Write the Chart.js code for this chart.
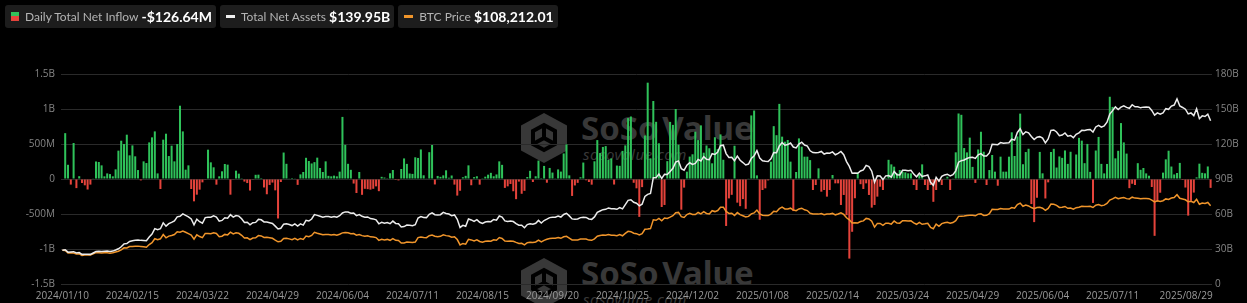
<!DOCTYPE html>
<html>
<head>
<meta charset="utf-8">
<title>Bitcoin Spot ETF Total Net Inflow</title>
<script src="https://cdn.jsdelivr.net/npm/chart.js@4.4.1/dist/chart.umd.min.js"></script>
<style>
  html, body { margin: 0; padding: 0; background: #000; }
  body { width: 1247px; height: 303px; position: relative; overflow: hidden; font-family: Lato, "Noto Sans", sans-serif; }
  .legend { position: absolute; top: 5px; left: 5px; display: flex; gap: 4px; z-index: 3; }
  .item { background: #1d1d1d; border-radius: 3px; height: 23px; padding: 0 4px 0 6px; display: flex; align-items: center; color: #b4b4b4; font-size: 12px; }
  .item b { color: #fff; font-size: 14px; font-weight: 700; margin-left: 3px; }
  .ico { display: inline-block; margin-right: 6px; }
  .ico.flow { width: 8px; height: 9px; background: linear-gradient(#2fc25a 50%, #e5433b 50%); }
  .ico.tna { width: 9px; height: 3px; background: #eee; }
  .ico.btc { width: 9px; height: 3px; background: #f0952b; }
  .wm { position: absolute; left: 521px; display: flex; align-items: flex-start; color: #383838; z-index: 0; }
  .wm .name { font-family: "Noto Sans", sans-serif; font-weight: 700; font-size: 33px; line-height: 34px; margin-left: 14px; margin-top: -2px; word-spacing: -5px; }
  .wm .url { font-family: "Noto Sans", sans-serif; font-style: italic; font-size: 15px; line-height: 16px; margin-left: 16px; margin-top: 1px; letter-spacing: 0.5px; }
  #wrap { position: absolute; left: 0; top: 0; width: 1247px; height: 303px; z-index: 1; }
</style>
</head>
<body>
<div class="legend">
  <div class="item"><span class="ico flow"></span>Daily Total Net Inflow<b>-$126.64M</b></div>
  <div class="item"><span class="ico tna"></span>Total Net Assets<b>$139.95B</b></div>
  <div class="item"><span class="ico btc"></span>BTC Price<b>$108,212.01</b></div>
</div>

<div class="wm" style="top:113px">
  <svg width="46" height="50" viewBox="0 0 46 50"><polygon points="23,0 46,12.5 46,37.5 23,50 0,37.5 0,12.5" fill="#383838"/><path d="M12 18 L23 12 L34 18 L34 31 L23 37 L12 31 Z M23 12 L23 25 L34 31 M12 31 L23 25" fill="none" stroke="#000" stroke-width="4"/></svg>
  <div><div class="name">SoSo Value</div><div class="url">sosovalue.com</div></div>
</div>
<div class="wm" style="top:258px">
  <svg width="46" height="50" viewBox="0 0 46 50"><polygon points="23,0 46,12.5 46,37.5 23,50 0,37.5 0,12.5" fill="#383838"/><path d="M12 18 L23 12 L34 18 L34 31 L23 37 L12 31 Z M23 12 L23 25 L34 31 M12 31 L23 25" fill="none" stroke="#000" stroke-width="4"/></svg>
  <div><div class="name">SoSo Value</div><div class="url">sosovalue.com</div></div>
</div>

<div id="wrap"><canvas id="etfChart"></canvas></div>

<script>
// x axis: US trading days from 2024/01/10 to 2025/08/29
const firstDay = '2024-01-10';
const lastDay = '2025-08-29';
const marketHolidays = ['2024-01-15', '2024-02-19', '2024-03-29', '2024-05-27', '2024-06-19', '2024-07-04',
    '2024-09-02', '2024-11-28', '2024-12-25', '2025-01-01', '2025-01-09', '2025-01-20', '2025-02-17',
    '2025-04-18', '2025-05-26', '2025-06-19', '2025-07-04'];

const xTickLabels = ['2024/01/10', '2024/02/15', '2024/03/22', '2024/04/29', '2024/06/04', '2024/07/11',
    '2024/08/15', '2024/09/20', '2024/10/25', '2024/12/02', '2025/01/08', '2025/02/14', '2025/03/24',
    '2025/04/29', '2025/06/04', '2025/07/11', '2025/08/29'];
const flowTickLabels = ['-1.5B', '-1B', '-500M', '0', '500M', '1B', '1.5B'];
const assetTickLabels = ['0', '30B', '60B', '90B', '120B', '150B', '180B'];

// daily total net inflow, $M
const netInflow = [
    0, 655, 203, -80, 514, -130, 40, -57, -90, -150,
    -80, 5, 250, 243, 195, 38, 80, 70, 38, 138,
    405, 547, 500, 633, 338, 480, 324, 128, -20, 252,
    228, 523, 595, 680, 80, -143, 562, 647, 328, 476,
    252, 500, 1047, 680, 133, 195, -143, -319, -224, -152,
    -48, -10, 419, 238, 167, -81, 38, 110, 214, 205,
    -224, -5, 119, 76, 3, -37, -58, -165, -4, 60,
    62, 1, -121, -218, -85, -51, -162, -564, -43, 378,
    217, 5, 14, 5, -84, 66, 100, 303, 257, 222,
    241, 305, 157, 100, 252, 45, 38, 48, 38, 105,
    887, 488, 217, 131, -65, -200, 100, -226, -140, -145,
    -152, -140, -105, -174, 31, 21, 11, 82, 129, -14,
    -20, 143, 294, 216, 78, 73, 310, 301, 422, 53,
    5, 383, 486, -78, 44, 31, 52, 124, 18, 50,
    -80, -237, -168, 25, 45, 195, -89, 27, 39, -81,
    11, 33, 62, 88, 39, 65, 252, 202, -127, -105,
    -71, -175, -288, -37, -211, -169, 28, 117, -43, 39,
    263, 13, 187, -53, 158, 92, 4, 137, 106, 365,
    494, 52, -242, -92, -55, 25, 235, -18, -43, -81,
    253, 556, 371, 458, 470, 273, 294, -79, 192, 188,
    402, 480, 870, 893, -54, -133, -541, -116, 621, 1376,
    294, 1114, 817, 510, -400, -371, 255, 816, 773, 1000,
    490, -438, -123, 105, 320, 353, 676, 556, 766, 376,
    479, 439, 224, 597, 428, 637, 275, -671, -277, -226,
    475, -338, -388, -287, -426, 5, 908, 978, 52, -582,
    -157, -133, -20, 248, 755, 626, 1073, 605, 533, 557,
    248, -458, 100, 580, 462, 319, 319, 270, -157, -86,
    152, -181, -157, -252, -157, 57, -62, -62, -371, -228,
    -517, -1137, -754, -275, 94, -74, -143, -62, -228, -409,
    -371, -252, -110, -157, 13, 274, 209, 176, 81, 128,
    105, 95, 81, 81, -86, -157, 57, 209, -86, -157,
    -86, -326, -157, -38, -86, 5, 33, -157, 5, 381,
    936, 917, 442, 380, 591, 173, -56, 422, 675, 390,
    -86, 128, 343, 105, -96, 319, 105, 105, 319, 667,
    329, 608, 934, 211, 385, 432, -358, -616, -268, 387,
    81, -278, -48, 386, 431, 164, 322, 302, 408, 216,
    389, 6, 350, 588, 548, 226, 501, 102, -342, 407,
    601, 216, 80, 215, 1175, 1030, 295, 403, 799, 523,
    363, -131, -68, -86, 226, 131, 157, 80, 47, -114,
    -812, -323, -196, 91, 281, 404, 178, 65, 86, 230,
    -14, -122, -523, -311, -194, 23, 219, 88, 81, 179,
    -126.64
];

// total net assets, $B
const totalNetAssets = [
    28.9, 29.4, 27.3, 27.5, 27.7, 26.6, 26.9, 25.4, 25.6, 25.6,
    25.4, 26.6, 27.8, 28.0, 27.9, 28.1, 28.2, 27.9, 28.2, 29.1,
    30.2, 31.9, 34.4, 34.7, 36.5, 37.1, 37.5, 37.8, 37.4, 37.3,
    37.1, 40.3, 42.8, 47.5, 46.6, 47.4, 52.4, 49.6, 51.7, 52.8,
    54.1, 57.6, 58.1, 60.1, 58.8, 57.5, 55.8, 50.8, 55.5, 53.4,
    52.1, 56.9, 57.3, 57.2, 58.4, 57.4, 53.9, 54.5, 56.8, 56.4,
    59.4, 57.3, 58.7, 58.2, 55.9, 52.7, 53.0, 50.7, 52.5, 52.8,
    55.4, 55.0, 53.2, 53.1, 52.5, 51.9, 49.6, 47.2, 47.8, 51.3,
    51.7, 51.0, 50.1, 51.6, 49.7, 51.5, 50.5, 54.6, 54.0, 55.7,
    59.5, 58.8, 58.0, 57.2, 57.9, 57.9, 57.2, 57.9, 57.2, 58.5,
    60.9, 61.8, 61.7, 60.7, 60.8, 58.6, 59.5, 58.0, 57.2, 57.5,
    56.1, 55.8, 55.0, 51.6, 52.9, 52.1, 52.7, 51.7, 53.9, 51.9,
    51.7, 48.9, 49.2, 50.5, 50.3, 50.0, 50.8, 56.6, 57.8, 57.0,
    56.9, 59.8, 61.0, 59.4, 59.1, 59.4, 61.4, 60.5, 60.0, 58.6,
    59.2, 55.4, 48.5, 50.3, 49.5, 55.7, 54.9, 53.6, 55.1, 52.9,
    52.0, 53.1, 53.6, 53.4, 55.3, 54.7, 58.3, 57.3, 54.1, 53.6,
    53.9, 53.5, 51.8, 50.4, 50.4, 48.2, 50.9, 51.6, 51.2, 52.0,
    54.5, 52.3, 54.4, 55.6, 56.9, 57.2, 57.3, 58.3, 57.4, 59.6,
    60.6, 58.4, 55.8, 55.6, 55.7, 56.9, 57.2, 57.1, 55.7, 55.4,
    57.5, 61.4, 62.6, 63.7, 64.0, 65.2, 64.5, 64.4, 64.0, 65.5,
    64.4, 68.1, 71.7, 72.2, 70.0, 69.2, 67.0, 68.4, 75.1, 76.8,
    77.6, 91.1, 91.2, 94.2, 90.5, 94.1, 93.9, 96.4, 99.2, 104.5,
    105.5, 98.9, 97.6, 101.9, 103.9, 102.5, 103.3, 106.8, 105.5, 109.2,
    106.9, 106.6, 111.7, 111.0, 113.0, 118.8, 119.0, 111.8, 108.5, 108.7,
    105.7, 109.6, 106.1, 104.1, 102.0, 102.8, 107.6, 109.8, 114.4, 107.9,
    105.6, 105.2, 105.0, 107.4, 112.6, 112.5, 118.3, 121.2, 118.9, 119.5,
    120.8, 117.4, 116.6, 119.9, 121.5, 119.1, 118.2, 114.2, 112.7, 112.5,
    112.7, 113.6, 111.4, 112.3, 112.1, 113.2, 110.8, 112.0, 113.6, 110.8,
    104.9, 100.8, 95.0, 95.2, 94.9, 96.9, 97.8, 101.7, 100.6, 96.7,
    87.2, 92.7, 92.6, 89.5, 92.7, 93.0, 91.7, 96.5, 93.6, 93.5,
    97.5, 97.5, 97.0, 97.4, 94.2, 91.9, 95.0, 92.2, 92.7, 93.4,
    87.1, 84.6, 91.4, 88.1, 92.2, 93.5, 94.1, 92.7, 93.7, 97.0,
    104.4, 105.7, 106.3, 107.6, 108.5, 108.6, 107.7, 110.7, 111.8, 109.7,
    109.7, 112.3, 119.8, 119.6, 119.4, 121.2, 120.6, 120.9, 121.0, 124.1,
    123.3, 129.9, 133.1, 128.1, 130.5, 129.6, 126.5, 123.8, 125.8, 126.3,
    125.0, 121.0, 124.3, 131.7, 132.0, 130.3, 127.1, 127.7, 129.5, 126.7,
    127.3, 125.4, 128.3, 129.5, 131.7, 131.5, 132.2, 132.4, 130.2, 134.6,
    136.0, 134.5, 135.5, 138.7, 145.6, 148.6, 151.8, 149.5, 151.6, 152.8,
    151.4, 150.6, 153.7, 151.9, 151.9, 151.0, 151.6, 151.7, 151.5, 148.8,
    144.8, 146.7, 145.5, 146.7, 150.3, 149.7, 152.5, 153.4, 158.7, 152.6,
    151.3, 149.8, 145.8, 146.6, 144.3, 150.2, 141.7, 144.1, 143.6, 145.5,
    139.95
];

// BTC price, thousand $
const btcPrice = [
    46.6, 46.3, 42.8, 43.1, 42.7, 41.3, 41.6, 39.5, 39.9, 40.1,
    39.9, 41.8, 43.3, 43.3, 42.9, 43.1, 43.2, 42.6, 43.1, 44.3,
    45.3, 47.1, 50.0, 49.7, 51.8, 51.9, 52.1, 52.3, 51.8, 51.3,
    50.7, 54.5, 57.0, 62.5, 61.2, 62.4, 68.3, 63.8, 66.1, 66.9,
    68.3, 72.1, 71.5, 73.1, 71.4, 69.5, 67.6, 61.9, 67.9, 65.5,
    64.0, 69.9, 69.9, 69.5, 70.8, 69.7, 65.4, 66.0, 68.5, 67.8,
    71.6, 69.1, 70.6, 70.0, 67.2, 63.4, 63.8, 61.3, 63.5, 63.8,
    66.8, 66.4, 64.3, 64.5, 63.8, 63.1, 60.6, 58.3, 59.1, 62.9,
    63.2, 62.3, 61.2, 63.1, 60.8, 62.9, 61.6, 66.3, 65.2, 67.0,
    71.4, 70.2, 69.1, 67.9, 68.5, 68.4, 67.6, 68.4, 67.5, 68.8,
    70.6, 71.1, 70.8, 69.4, 69.6, 67.3, 68.2, 66.8, 66.0, 66.5,
    65.1, 64.9, 64.1, 60.3, 61.8, 60.9, 61.6, 60.3, 62.7, 60.3,
    60.2, 56.7, 56.7, 58.0, 57.7, 57.3, 57.9, 64.1, 65.0, 64.1,
    63.9, 66.7, 67.6, 65.9, 65.4, 65.8, 67.9, 66.8, 66.2, 64.6,
    65.3, 61.4, 54.0, 56.0, 55.0, 61.7, 60.9, 59.4, 61.0, 58.7,
    57.6, 58.9, 59.4, 59.0, 61.1, 60.4, 64.1, 62.8, 59.4, 59.0,
    59.4, 59.1, 57.5, 56.1, 56.2, 54.0, 57.0, 57.6, 57.3, 58.1,
    60.6, 58.2, 60.3, 61.7, 62.9, 63.2, 63.3, 64.3, 63.1, 65.2,
    65.8, 63.3, 60.8, 60.6, 60.8, 62.1, 62.2, 62.1, 60.6, 60.3,
    62.4, 66.0, 67.0, 67.6, 67.4, 68.4, 67.4, 67.4, 66.7, 68.2,
    66.6, 69.9, 72.7, 72.3, 70.2, 69.5, 67.8, 69.4, 75.6, 76.0,
    76.5, 88.7, 88.0, 90.5, 87.3, 91.1, 90.6, 92.3, 94.3, 98.4,
    98.9, 93.0, 91.9, 95.9, 97.5, 95.9, 96.0, 98.8, 96.9, 99.9,
    97.4, 96.7, 101.2, 100.0, 101.4, 106.1, 106.1, 100.2, 97.5, 97.8,
    94.7, 98.6, 95.8, 94.2, 92.6, 93.4, 96.9, 98.1, 102.1, 96.9,
    95.0, 94.7, 94.5, 96.5, 100.5, 99.9, 104.1, 106.1, 103.7, 103.7,
    104.7, 102.1, 101.3, 103.7, 104.7, 102.4, 101.4, 97.7, 96.6, 96.5,
    96.5, 97.4, 95.7, 96.6, 96.6, 97.5, 95.5, 96.6, 98.3, 96.1,
    91.4, 88.7, 84.3, 84.7, 84.4, 86.2, 87.2, 90.6, 89.9, 86.7,
    78.6, 83.7, 83.7, 81.1, 84.0, 84.0, 82.7, 86.9, 84.2, 84.0,
    87.5, 87.4, 86.9, 87.2, 84.4, 82.5, 85.2, 82.5, 83.1, 83.8,
    78.3, 76.3, 82.6, 79.6, 83.4, 84.5, 85.1, 84.0, 84.9, 87.5,
    93.4, 93.7, 93.9, 94.7, 95.0, 94.9, 94.2, 96.5, 96.9, 94.7,
    94.8, 97.0, 103.2, 102.9, 102.8, 104.1, 103.5, 103.7, 103.5, 105.6,
    104.7, 109.7, 111.7, 107.3, 108.9, 107.8, 105.6, 103.9, 105.7, 105.9,
    104.7, 101.6, 104.4, 110.3, 110.2, 108.7, 105.7, 106.0, 107.1, 104.6,
    104.9, 103.3, 105.4, 106.0, 107.3, 107.0, 107.1, 107.2, 105.7, 108.9,
    109.6, 108.2, 108.9, 111.3, 115.9, 117.5, 119.8, 117.7, 118.7, 119.3,
    117.9, 117.4, 119.9, 118.6, 118.4, 117.6, 118.0, 118.0, 117.8, 115.8,
    113.3, 115.0, 114.1, 115.0, 117.5, 116.7, 118.7, 119.3, 123.3, 118.4,
    117.4, 116.3, 113.5, 114.3, 112.5, 116.9, 110.1, 111.8, 111.3, 112.6,
    108.212
];

function tradingDays(from, to) {
    const out = [];
    const d = new Date(from + 'T00:00:00Z');
    const end = new Date(to + 'T00:00:00Z');
    while (d <= end) {
        const iso = d.toISOString().slice(0, 10);
        const wd = d.getUTCDay();
        if (wd !== 0 && wd !== 6 && !marketHolidays.includes(iso)) out.push(iso.replace(/-/g, '/'));
        d.setUTCDate(d.getUTCDate() + 1);
    }
    return out;
}

// keep the last date label inside the plot, like the original
const lastLabelInside = {
    id: 'lastLabelInside',
    beforeDraw(chart) {
        const items = chart.scales.x.getLabelItems(chart.chartArea);
        for (let j = items.length - 1; j >= 0; j--) {
            if (items[j].label) {
                items[j].options.textAlign = 'right';
                items[j].options.translation[0] += 2;
                break;
            }
        }
    }
};

document.addEventListener('DOMContentLoaded', function () {
    const dates = tradingDays(firstDay, lastDay);
    const ctx = document.getElementById('etfChart').getContext('2d');

    Chart.defaults.font.family = "'Open Sans', Lato, sans-serif";

    new Chart(ctx, {
        data: {
            labels: dates,
            datasets: [{
                type: 'line',
                label: 'Total Net Assets',
                data: totalNetAssets,
                yAxisID: 'yAssets',
                borderColor: '#ececec',
                borderWidth: 1.5,
                pointRadius: 0,
                tension: 0,
                order: 1
            }, {
                type: 'line',
                label: 'BTC Price',
                data: btcPrice,
                yAxisID: 'yBtc',
                borderColor: '#f0952b',
                borderWidth: 1.5,
                pointRadius: 0,
                tension: 0,
                order: 2
            }, {
                type: 'bar',
                label: 'Daily Total Net Inflow',
                data: netInflow,
                yAxisID: 'yFlow',
                backgroundColor: netInflow.map(v => v >= 0 ? '#2fc25a' : '#e5433b'),
                barPercentage: 0.72,
                categoryPercentage: 1,
                order: 3
            }]
        },
        options: {
            responsive: true,
            maintainAspectRatio: false,
            animation: false,
            layout: { padding: { top: 74, left: 0, right: 0, bottom: 0 } },
            plugins: {
                legend: { display: false },
                tooltip: { enabled: false }
            },
            scales: {
                x: {
                    offset: true,
                    grid: { display: false, drawTicks: false },
                    border: { display: false },
                    ticks: {
                        autoSkip: false,
                        maxRotation: 0,
                        minRotation: 0,
                        padding: 6,
                        color: '#9a9a9a',
                        font: { size: 10 },
                        callback: function (value) {
                            return xTickLabels.includes(dates[value]) ? dates[value] : null;
                        }
                    },
                    afterFit: function (scale) { scale.height = 19; }
                },
                yFlow: {
                    position: 'left',
                    min: -1500,
                    max: 1500,
                    grid: { color: '#2a2a2a', drawTicks: false },
                    border: { display: false },
                    ticks: {
                        stepSize: 500,
                        padding: 6,
                        color: '#858585',
                        font: { size: 10 },
                        callback: (v, i) => flowTickLabels[i]
                    },
                    afterFit: function (scale) { scale.width = 61; }
                },
                yAssets: {
                    position: 'right',
                    min: 0,
                    max: 180,
                    grid: { display: false, drawTicks: false },
                    border: { display: false },
                    ticks: {
                        stepSize: 30,
                        padding: 3,
                        color: '#858585',
                        font: { size: 10 },
                        callback: (v, i) => assetTickLabels[i]
                    },
                    afterFit: function (scale) { scale.width = 35; }
                },
                yBtc: {
                    display: false,
                    min: 0,
                    max: 290
                }
            }
        },
        plugins: [lastLabelInside]
    });
});
</script>
</body>
</html>
